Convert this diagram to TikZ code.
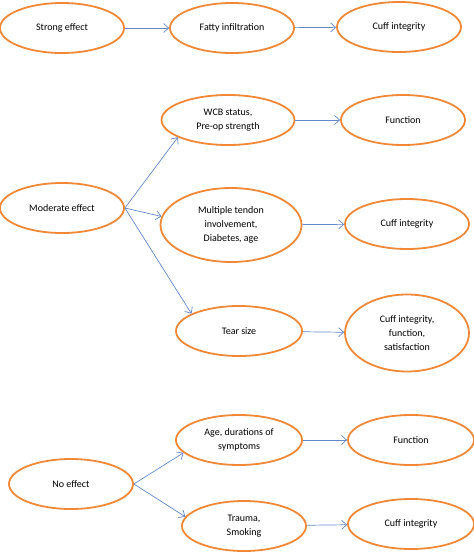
\documentclass[tikz,border=0pt]{standalone}
\usepackage{fontspec}
\setmainfont{Carlito}
\usetikzlibrary{shapes.geometric,arrows.meta}
\definecolor{ovalorange}{RGB}{240,136,56}
\definecolor{linkblue}{RGB}{100,136,200}

\begin{document}
\begin{tikzpicture}[x=1pt,y=1pt,
    oval/.style={ellipse, draw=ovalorange, line width=1.8pt, inner sep=0pt, align=center,
                 minimum width=124pt, minimum height=50pt, font=\fontsize{10}{14}\selectfont},
    link/.style={draw=linkblue, line width=0.7pt, -{Straight Barb[length=5pt,width=9pt]}}]
    \useasboundingbox (0,0) rectangle (474,-552); % page size
    % strong effect
    \node[oval] (strong) at (62,-28) {Strong effect};
    \node[oval] (fatty) at (232,-28) {Fatty infiltration};
    \node[oval] (cuffA) at (399,-27) {Cuff integrity};
    % moderate effect
    \node[oval] (moderate) at (62,-208) {Moderate effect};
    \node[oval, minimum width=133pt] (wcb) at (228,-120) {WCB status,\\Pre-op strength};
    \node[oval] (funcA) at (403,-120) {Function};
    \node[oval, minimum width=141pt, minimum height=74pt] (multi) at (231,-225) {Multiple tendon\\involvement,\\Diabetes, age};
    \node[oval] (cuffB) at (407,-224) {Cuff integrity};
    \node[oval, minimum width=126pt] (tear) at (239,-331) {Tear size};
    \node[oval, minimum height=77pt] (cuffC) at (407,-333) {Cuff integrity,\\function,\\satisfaction};
    % no effect
    \node[oval] (noeff) at (71,-484) {No effect};
    \node[oval, minimum width=126pt] (age) at (239,-440) {Age, durations of\\symptoms};
    \node[oval, minimum width=126pt] (funcB) at (411,-440) {Function};
    \node[oval] (trauma) at (244,-526) {Trauma,\\Smoking};
    \node[oval, minimum width=126pt] (cuffD) at (411,-524) {Cuff integrity};
    % arrows
    \draw[link] (strong) -- (fatty);
    \draw[link] (fatty) -- (cuffA);
    \draw[link] (moderate.east) -- (wcb.199);
    \draw[link] (moderate.east) -- (multi.173);
    \draw[link] (moderate.east) -- (tear.160);
    \draw[link] (wcb) -- (funcA);
    \draw[link] (multi) -- (cuffB);
    \draw[link] (tear) -- (cuffC);
    \draw[link] (noeff.east) -- (age.193);
    \draw[link] (noeff.east) -- (trauma.171);
    \draw[link] (age) -- (funcB);
    \draw[link] (trauma) -- (cuffD);
\end{tikzpicture}
\end{document}
